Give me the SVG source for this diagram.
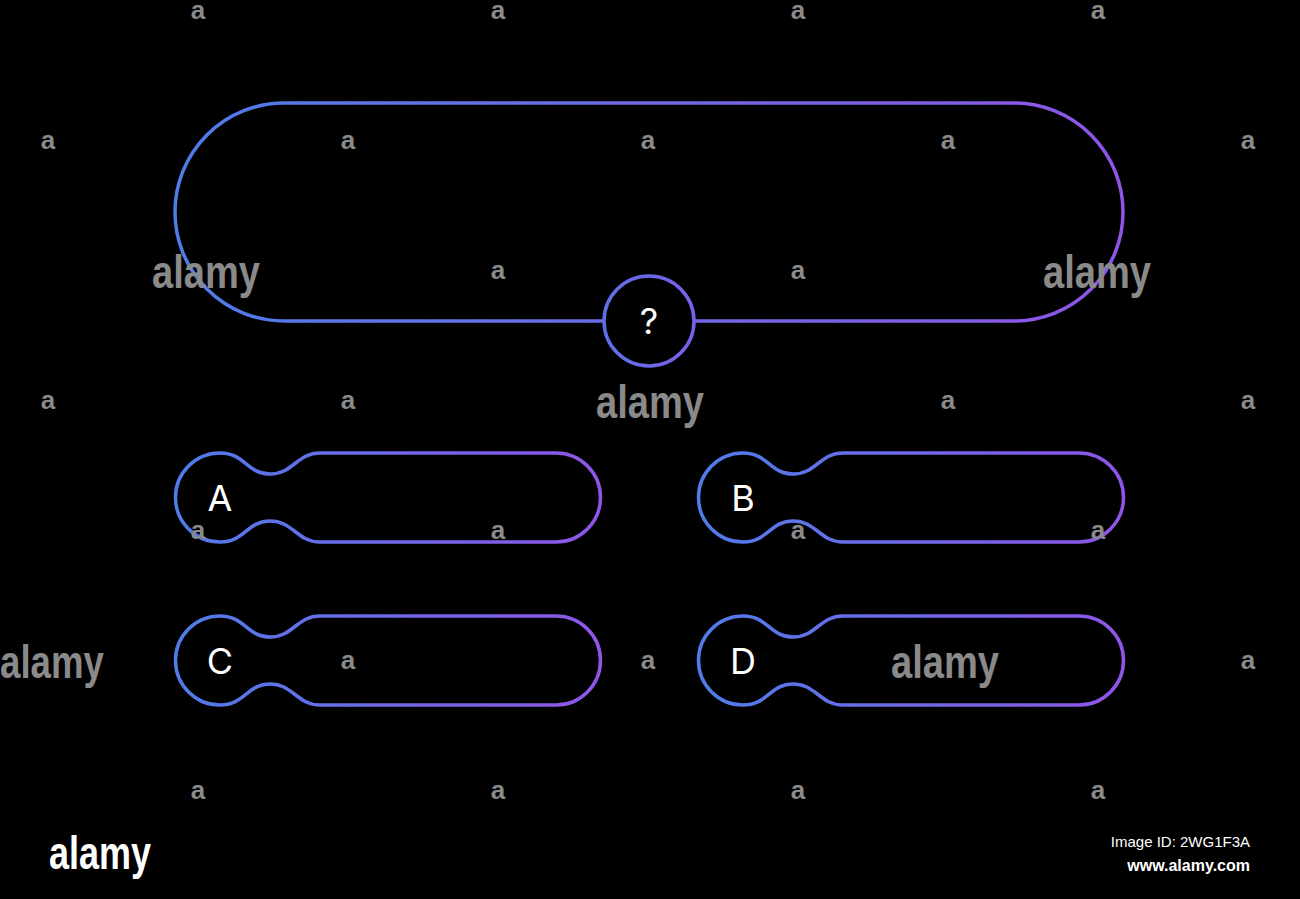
<svg xmlns="http://www.w3.org/2000/svg" width="1300" height="899" viewBox="0 0 1300 899">
<defs>
<linearGradient id="g" x1="0" y1="0" x2="1" y2="0"><stop offset="0" stop-color="#4f7ce9"/><stop offset="1" stop-color="#8f55e8"/></linearGradient>
<linearGradient id="gc" x1="0" y1="0" x2="1" y2="0"><stop offset="0" stop-color="#5f6fe8"/><stop offset="1" stop-color="#7a60e8"/></linearGradient>
<path id="opt" d="M145,0 H381 A44.5,44.5 0 0 1 381,89 H145 C122,89 118,68 95,68 C72,68 70,89 45,89 A44.5,44.5 0 0 1 45,0 C70,0 72,21 95,21 C118,21 122,0 145,0 Z"/>
</defs>
<style>
.s{fill:none;stroke:url(#g);stroke-width:3.5}
.l{fill:#fff;font-family:"Inter","Liberation Sans",sans-serif;font-size:36px;text-anchor:middle}
.w{fill:#8a8a8a;font-family:"Liberation Sans",sans-serif;font-weight:bold;text-anchor:middle}
.wb{font-size:46px}
.ws{font-size:26px}
</style>
<rect width="1300" height="899" fill="#000"/>
<g id="question">
<rect class="s" x="175" y="103" width="948" height="218" rx="109"/>
<circle cx="649" cy="321" r="45" fill="#000" stroke="url(#gc)" stroke-width="3.5"/>
<text class="l" x="649" y="334" font-size="34">?</text>
</g>
<g id="optA"><use href="#opt" class="s" transform="translate(175,453)"/><text class="l" x="220" y="511">A</text></g>
<g id="optB"><use href="#opt" class="s" transform="translate(698,453)"/><text class="l" x="743" y="511">B</text></g>
<g id="optC"><use href="#opt" class="s" transform="translate(175,616)"/><text class="l" x="220" y="674">C</text></g>
<g id="optD"><use href="#opt" class="s" transform="translate(698,616)"/><text class="l" x="743" y="674">D</text></g>
<g id="connectors"/>
<g id="watermark">
<text class="w ws" x="198" y="19">a</text><text class="w ws" x="498" y="19">a</text><text class="w ws" x="798" y="19">a</text><text class="w ws" x="1098" y="19">a</text>
<text class="w ws" x="48" y="149">a</text><text class="w ws" x="348" y="149">a</text><text class="w ws" x="648" y="149">a</text><text class="w ws" x="948" y="149">a</text><text class="w ws" x="1248" y="149">a</text>
<text class="w ws" x="498" y="279">a</text><text class="w ws" x="798" y="279">a</text>
<text class="w ws" x="48" y="409">a</text><text class="w ws" x="348" y="409">a</text><text class="w ws" x="948" y="409">a</text><text class="w ws" x="1248" y="409">a</text>
<text class="w ws" x="198" y="539">a</text><text class="w ws" x="498" y="539">a</text><text class="w ws" x="798" y="539">a</text><text class="w ws" x="1098" y="539">a</text>
<text class="w ws" x="348" y="669">a</text><text class="w ws" x="648" y="669">a</text><text class="w ws" x="1248" y="669">a</text>
<text class="w ws" x="198" y="799">a</text><text class="w ws" x="498" y="799">a</text><text class="w ws" x="798" y="799">a</text><text class="w ws" x="1098" y="799">a</text>
<text class="w wb" x="206" y="288" textLength="108" lengthAdjust="spacingAndGlyphs">alamy</text><text class="w wb" x="1097" y="288" textLength="108" lengthAdjust="spacingAndGlyphs">alamy</text><text class="w wb" x="650" y="418" textLength="108" lengthAdjust="spacingAndGlyphs">alamy</text>
<text class="w wb" x="52" y="678" textLength="104" lengthAdjust="spacingAndGlyphs">alamy</text><text class="w wb" x="945" y="678" textLength="108" lengthAdjust="spacingAndGlyphs">alamy</text>
<text class="w wb" x="100" y="869" style="fill:#fff" textLength="102" lengthAdjust="spacingAndGlyphs">alamy</text>
<text x="1250" y="847" fill="#fff" font-family="Liberation Sans, sans-serif" font-size="15" text-anchor="end">Image ID: 2WG1F3A</text>
<text x="1250" y="871" fill="#fff" font-family="Liberation Sans, sans-serif" font-size="16" font-weight="bold" text-anchor="end">www.alamy.com</text>
</g>
</svg>
